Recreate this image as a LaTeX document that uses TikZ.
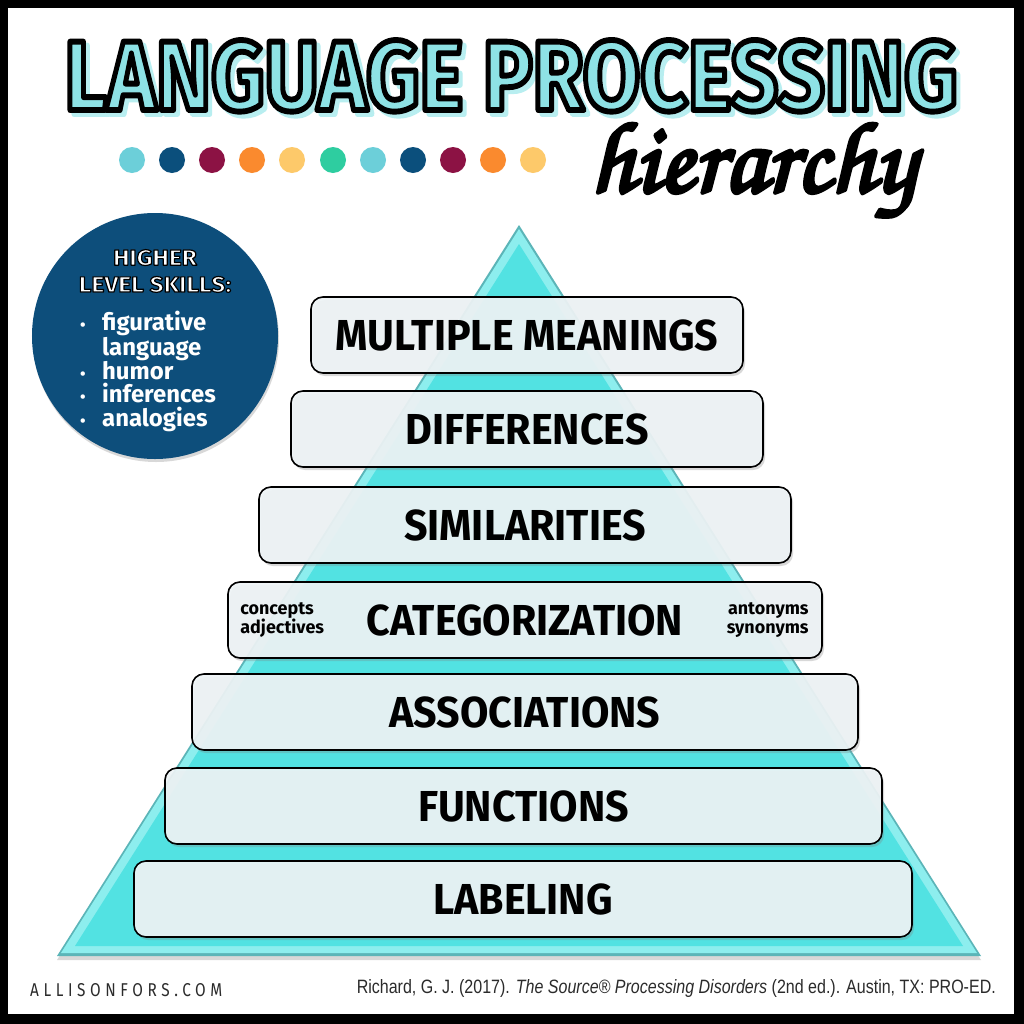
\documentclass[tikz,border=0pt]{standalone}
\usepackage[T1]{fontenc}
\usepackage{fontspec}
\usetikzlibrary{shadows}
\setmainfont{Fira Sans}
\newfontfamily\boxface{Fira Sans}[FakeStretch=0.95]
\newfontfamily\wideface{Fira Sans}[FakeStretch=1.12]
\newfontfamily\citeface{Liberation Sans}
\newfontfamily\siteface{Fira Sans}[LetterSpace=30]
\newcommand\scriptface{\fontencoding{T1}\fontfamily{pzc}\fontseries{mb}\fontshape{it}\selectfont}
\newcommand\titleface{\bfseries\fontsize{101}{110}\selectfont}
% outlined text: fill and stroke the glyphs
\newcommand\strokedtext[3]{\special{pdf:literal direct 2 Tr #1 w #2 RG 1 j}#3\special{pdf:literal direct 0 Tr}}
\definecolor{titlefill}{HTML}{8EE2E5}
\definecolor{titleshade}{HTML}{B8EEF0}
\definecolor{pyrfill}{HTML}{52E2E2}
\definecolor{pyrlight}{HTML}{8DEEEE}
\definecolor{pyredge}{HTML}{5BB5B8}
\definecolor{boxfill}{HTML}{EEF4F6}
\definecolor{skillblue}{HTML}{0D4E7B}
\definecolor{footgray}{HTML}{2B2B2B}
\definecolor{dotteal}{HTML}{6CCFD9}
\definecolor{dotnavy}{HTML}{0B4F7C}
\definecolor{dotmaroon}{HTML}{8C1244}
\definecolor{dotorange}{HTML}{FA8A2E}
\definecolor{dotyellow}{HTML}{FDC96A}
\definecolor{dotgreen}{HTML}{2ECDA0}
\begin{document}
\begin{tikzpicture}[x=1bp,y=-1bp,
    levelbox/.style={draw=black, line width=1.6bp, rounded corners=12bp, fill=boxfill,
        fill opacity=0.92, text opacity=1, minimum height=76bp,
        font=\boxface\bfseries\fontsize{43.5}{50}\selectfont,
        drop shadow={opacity=0.3, shadow xshift=2bp, shadow yshift=-3bp}},
    sidenote/.style={inner sep=0, font=\bfseries\fontsize{18}{19}\selectfont}]
\useasboundingbox (0,0) rectangle (1024,1024);
% frame
\fill[black] (0,0) rectangle (1024,1024);
\fill[white] (8,8) rectangle (1014,1014);
% title
\node[anchor=base, inner sep=0, text=titleshade] (titleshadow) at (515,114)
    {\resizebox{893bp}{70bp}{\titleface\strokedtext{6}{0.722 0.933 0.941}{LANGUAGE PROCESSING}}};
\node[anchor=base, inner sep=0, text=titlefill] (title) at (511,110)
    {\resizebox{893bp}{70bp}{\titleface\strokedtext{6}{0 0 0}{LANGUAGE PROCESSING}}};
\node[anchor=base west, inner sep=0] (hierarchy) at (590,192)
    {\resizebox{325bp}{!}{\scriptface\fontsize{80}{90}\selectfont\strokedtext{3}{0 0 0}{hierarchy}}};
% dots
\fill[dotteal] (132,160) circle (13);
\fill[dotnavy] (172,160) circle (13);
\fill[dotmaroon] (212,160) circle (13);
\fill[dotorange] (252,160) circle (13);
\fill[dotyellow] (292,160) circle (13);
\fill[dotgreen] (333,160) circle (13);
\fill[dotteal] (373,160) circle (13);
\fill[dotnavy] (413,160) circle (13);
\fill[dotmaroon] (453,160) circle (13);
\fill[dotorange] (493,160) circle (13);
\fill[dotyellow] (533,160) circle (13);
% pyramid
\fill[pyredge, drop shadow={opacity=0.3, shadow xshift=0bp, shadow yshift=-4bp}]
    (519,225) -- (981,956) -- (57,956) -- cycle;
\fill[pyrlight] (519,229) -- (977,953) -- (61,953) -- cycle;
\fill[pyrfill] (519,244) -- (963,946) -- (75,946) -- cycle;
% higher level skills
\node[circle, fill=skillblue, minimum size=246bp,
    drop shadow={opacity=0.3, shadow xshift=1bp, shadow yshift=-3bp}] (skills) at (155,336) {};
\node[text=white, align=center, inner sep=0, font=\wideface\bfseries\fontsize{22}{27}\selectfont] (skillhead) at (155,271)
    {\strokedtext{1.2}{0 0 0}{HIGHER}\\\strokedtext{1.2}{0 0 0}{LEVEL SKILLS:}};
\node[anchor=north west, inner sep=0, text=white, align=left, font=\bfseries\fontsize{24}{23.5}\selectfont] (skilllist) at (80,311)
    {\makebox[22bp][l]{\fontsize{16}{16}\selectfont•}figurative\\
     \makebox[22bp][l]{}language\\
     \makebox[22bp][l]{\fontsize{16}{16}\selectfont•}humor\\
     \makebox[22bp][l]{\fontsize{16}{16}\selectfont•}inferences\\
     \makebox[22bp][l]{\fontsize{16}{16}\selectfont•}analogies};
% levels
\node[levelbox, minimum width=432bp] (meanings) at (527,335) {MULTIPLE MEANINGS};
\node[levelbox, minimum width=472bp] (differences) at (527,429) {DIFFERENCES};
\node[levelbox, minimum width=532bp] (similarities) at (525,525) {SIMILARITIES};
\node[levelbox, minimum width=594bp] (categorization) at (525,620) {CATEGORIZATION};
\node[levelbox, minimum width=666bp] (associations) at (525,712) {ASSOCIATIONS};
\node[levelbox, minimum width=717bp] (functions) at (523.5,806) {FUNCTIONS};
\node[levelbox, minimum width=778bp] (labeling) at (523,899) {LABELING};
\node[sidenote, anchor=west, align=left] (catleft) at ([xshift=13bp]categorization.west) {concepts\\adjectives};
\node[sidenote, anchor=east, align=right] (catright) at ([xshift=-14bp]categorization.east) {antonyms\\synonyms};
% footer
\node[anchor=base west, inner sep=0, text=footgray] (site) at (30,996)
    {\resizebox{192bp}{13bp}{\siteface\fontsize{16}{16}\selectfont ALLISONFORS.COM}};
\node[anchor=base east, inner sep=0, text=footgray] (source) at (996,993)
    {\resizebox{639bp}{14bp}{\citeface\fontsize{16}{16}\selectfont Richard, G. J. (2017). \textit{The Source® Processing Disorders} (2nd ed.). Austin, TX: PRO-ED.}};
\end{tikzpicture}
\end{document}
